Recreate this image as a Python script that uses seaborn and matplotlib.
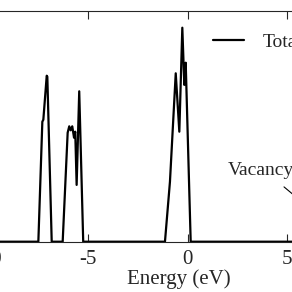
import numpy as np
import pandas as pd
import matplotlib
matplotlib.use("Agg")
import matplotlib.pyplot as plt
import seaborn as sns

sns.set_style("ticks")
plt.rcParams['font.family'] = ['Liberation Serif', 'DejaVu Serif']
plt.rcParams['axes.unicode_minus'] = False

# total DOS (energy in eV, DOS in arbitrary units)
energy = [-10.0, -7.49, -7.29, -7.24, -7.07, -7.04, -6.82,
          -6.27, -6.02, -5.94, -5.87, -5.79, -5.70, -5.64, -5.57, -5.44, -5.24,
          -1.14, -0.89, -0.60, -0.42, -0.27, -0.17, -0.10, 0.15, 10.0]
dos = [0.0, 0.0, 6.0, 6.1, 8.3, 8.25, 0.0,
       0.0, 5.45, 5.77, 5.57, 5.77, 5.2, 5.5, 2.84, 7.52, 0.0,
       0.0, 3.0, 8.42, 5.5, 10.7, 7.84, 8.95, 0.0, 0.0]
xticks = [-10, -5, 0, 5, 10]

#--------------------------------------------------------------------------------------
def draw_dos():

        df = pd.DataFrame({'Energy': energy, 'DOS': dos})
        fig = plt.figure(figsize=(2.92, 2.92), dpi=100)
        # axes is wider than the picture: the reference is a crop of a bigger figure
        ax = fig.add_axes([-11.7 / 292, 50.3 / 292, 398.8 / 292, 231.0 / 292])
        sns.lineplot(x='Energy', y='DOS', data=df, sort=False, color='black',
                     linewidth=1.6, label='Total', ax=ax)
        ax.set_xlim(-10, 10)
        ax.set_ylim(0, 11.55)
        ax.set_xticks(xticks)
        ax.set_yticks([])
        ax.set_ylabel('')
        ax.set_xlabel('Energy (eV)', fontsize=15)
        ax.xaxis.set_label_coords((179 + 11.7) / 398.8, -0.118)
        ax.tick_params(axis='x', direction='in', top=True, length=6, width=0.8,
                       labelsize=15, pad=6)
        for s in ax.spines.values():
                s.set_linewidth(0.8)

        ax.text(2.03, 3.35, 'Vacancy', ha='left', va='baseline', fontsize=14)
        ax.annotate('', xy=(6.2, 1.6), xytext=(4.83, 2.74),
                    arrowprops=dict(arrowstyle='-', lw=0.8, color='black',
                                    shrinkA=0, shrinkB=0))

        ax.legend(loc='upper left', bbox_to_anchor=(213 / 292, 0.885),
                  bbox_transform=fig.transFigure, frameon=False, borderpad=0,
                  borderaxespad=0, handlelength=1.6, handletextpad=0.95, fontsize=14)

        fig.savefig('out.png', dpi=100)

#--------------------------------------------------------------------------------------
def main():

        draw_dos()

if __name__ == '__main__':
        main()
